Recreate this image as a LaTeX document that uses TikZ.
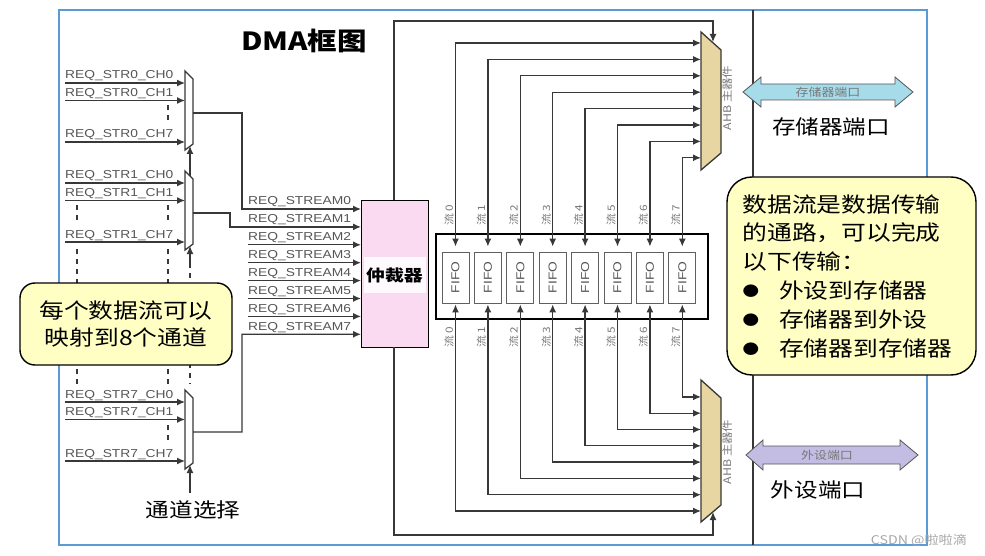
\documentclass[tikz,border=0pt]{standalone}
\usepackage{fontspec}
\setmainfont{Liberation Sans}
\newfontfamily\reqfont{Liberation Sans}[FakeStretch=1.2]
\newfontfamily\cjk{Noto Sans CJK SC}[FakeStretch=1.18]
\usepackage{tikz}
\usetikzlibrary{arrows.meta,positioning}
\definecolor{frameblue}{HTML}{5B9BD5}
\definecolor{wiregray}{HTML}{383838}
\definecolor{lblgray}{HTML}{555555}
\definecolor{arbpink}{HTML}{F9DAF0}
\definecolor{ahbtan}{HTML}{E8D6A2}
\definecolor{noteyellow}{HTML}{FFFFC4}
\definecolor{memcyan}{HTML}{A6DBEA}
\definecolor{perlilac}{HTML}{C4BDE3}
\newcommand{\notedot}{\raisebox{1.5pt}{\fontsize{14}{14}\selectfont ●}\hspace{20pt}}

\begin{document}
\begin{tikzpicture}[x=1pt, y=-1pt, >={Latex[length=8pt,width=7pt]},
	sig/.style={draw=wiregray, line width=1.3pt},
	dashsig/.style={draw=wiregray, line width=1.1pt, dash pattern=on 5pt off 5pt},
	reqlbl/.style={font=\reqfont\fontsize{11.5}{12}\selectfont, text=lblgray, inner sep=0pt, anchor=base west},
	fifobox/.style={draw=wiregray!80, line width=0.9pt, rotate=90, minimum width=51pt, minimum height=27pt, inner sep=0pt, font=\reqfont\fontsize{11.5}{12}\selectfont, text=lblgray},
	streamlbl/.style={rotate=90, font=\cjk\fontsize{10}{10}\selectfont, text=lblgray!80, inner sep=0pt},
	ahblbl/.style={rotate=90, font=\cjk\fontsize{10.5}{11}\selectfont, text=lblgray!80, inner sep=0pt},
	portlbl/.style={font=\cjk\fontsize{11}{12}\selectfont, text=lblgray!80, inner sep=0pt},
	bigcjk/.style={font=\cjk\fontsize{20}{24}\selectfont, inner sep=0pt},
	note/.style={draw=black, line width=1.4pt, fill=noteyellow, inner sep=0pt, font=\cjk\fontsize{21}{28.8}\selectfont},
	muxshape/.style={sig, fill=white},
	ahbshape/.style={sig, fill=ahbtan},
	portshape/.style={draw=lblgray, line width=0.8pt}]
	\useasboundingbox (0,0) rectangle (985,556);
	% frame and title
	\draw[frameblue, line width=1.6pt] (59,10) rectangle (927,545);
	\draw[wiregray, line width=1.5pt] (753,10) -- (753,545);
	\node[font=\cjk\bfseries\fontsize{25}{28}\selectfont] (title) at (304,41) {DMA框图};

	% channel selection muxes
	\foreach \g/\y in {0/83,1/183,7/402} {
		\draw[muxshape] (185,\y-12) -- (193,\y-4) -- (193,\y+61) -- (185,\y+67) -- cycle;
		\coordinate (mux\g-out) at (193,\y+30);
		\coordinate (mux\g-top) at (190,\y-7);
		\coordinate (mux\g-bot) at (190,\y+63);
		\foreach \c/\d in {0/0,1/17.5,7/59} {
			\coordinate (in\g\c) at (65,\y+\d);
			\coordinate (mux\g-in\c) at (185,\y+\d);
			\node[reqlbl] (lbl\g\c) at (65,\y+\d-4) {REQ\_STR\g\_CH\c};
			\draw[sig,->] (in\g\c) -- (mux\g-in\c);
		}
	}
	\foreach \x/\a/\b [count=\n] in {168/105/123,168/205/223,168/249/388,168/425/443,77/205/223,77/249/388} {
		\coordinate (dotA\n) at (\x,\a);
		\coordinate (dotB\n) at (\x,\b);
		\draw[dashsig] (dotA\n) -- (dotB\n);
	}
	\coordinate (sel-dash) at (190,263);
	\coordinate (sel-dashend) at (190,384);
	\coordinate (sel-in) at (190,493);
	\draw[sig,->] (mux1-top) -- (mux0-bot);
	\draw[sig,->] (sel-dash) -- (mux1-bot);
	\draw[dashsig] (sel-dash) -- (sel-dashend);
	\draw[sig,->] (sel-in) -- (mux7-bot);
	\node[bigcjk] (selname) at (193,510) {通道选择};

	% arbiter
	\node[draw=black, line width=1.2pt, fill=arbpink, minimum width=67pt, minimum height=147pt, anchor=north west, inner sep=0pt] (arb) at (361,200) {};
	\node[font=\cjk\bfseries\fontsize{16}{18}\selectfont, fill=white!85!arbpink, minimum width=62pt, minimum height=36pt, inner sep=0pt] (arbtxt) at (394.5,275) {仲裁器};
	\foreach \k in {0,...,7} {
		\coordinate (arb-in\k) at (361,{209+17.9*\k});
		\coordinate (sl\k) at (248,{209+17.9*\k});
		\node[reqlbl] (slbl\k) at (248,{205+17.9*\k}) {REQ\_STREAM\k};
	}
	\foreach \k in {2,...,6}
		\draw[sig,->] (sl\k) -- (arb-in\k);
	\coordinate (bend0) at (242,209);
	\coordinate (bend1) at (230,226.9);
	\coordinate (bend7) at (242,334.3);
	\draw[sig,->] (mux0-out) -| (bend0) -- (arb-in0);
	\draw[sig,->] (mux1-out) -| (bend1) -- (arb-in1);
	\draw[sig,->] (mux7-out) -| (bend7) -- (arb-in7);

	% fifos
	\node[draw=black, line width=1.5pt, minimum width=272pt, minimum height=85pt, anchor=north west, inner sep=0pt] (fifobank) at (435,233) {};
	\foreach \i in {0,...,7} {
		\node[fifobox] (fifo\i) at ({455.5+32.4*\i},277.5) {FIFO};
		\node[streamlbl] (sup\i) at ({449+32.4*\i},215) {流 \i};
		\node[streamlbl] (sdn\i) at ({449+32.4*\i},337) {流 \i};
	}

	% AHB masters
	\draw[ahbshape] (701,32) -- (721,50) -- (721,153) -- (701,170) -- cycle;
	\draw[ahbshape] (701,380) -- (721,398) -- (721,505) -- (701,522) -- cycle;
	\node[ahblbl] (ahbM-lbl) at (728,98) {AHB 主器件};
	\node[ahblbl] (ahbP-lbl) at (728,452) {AHB 主器件};
	\coordinate (ahbM-sel) at (713,42);
	\coordinate (ahbP-sel) at (713,512);
	\coordinate (arb-up) at (394,200);
	\coordinate (arb-upbend) at (394,21);
	\coordinate (arb-dn) at (394,347);
	\coordinate (arb-dnbend) at (394,535);
	\draw[sig,->] (arb-up) -- (arb-upbend) -| (ahbM-sel);
	\draw[sig,->] (arb-dn) -- (arb-dnbend) -| (ahbP-sel);
	\foreach \i in {0,...,7} {
		\coordinate (ahbM-in\i) at (701,{43+16.4*\i});
		\coordinate (ahbP-in\i) at (701,{511-16.3*\i});
		\draw[sig,<->,shorten >=5pt] (ahbM-in\i) -| (fifo\i.east);
		\draw[sig,<->,shorten >=1pt] (ahbP-in\i) -| (fifo\i.west);
	}

	% ports
	\draw[portshape, fill=memcyan] (743,92) -- (761,77) -- (761,84) -- (895,84) -- (895,77) -- (913,92) -- (895,107) -- (895,100) -- (761,100) -- (761,107) -- cycle;
	\node[portlbl] (memlbl) at (828,92) {存储器端口};
	\node[bigcjk] (memport) at (831,127) {存储器端口};
	\draw[portshape, fill=perlilac] (746,455) -- (763,440) -- (763,446) -- (900,446) -- (900,440) -- (918,455) -- (900,470) -- (900,464) -- (763,464) -- (763,470) -- cycle;
	\node[portlbl] (perlbl) at (827,455) {外设端口};
	\node[bigcjk] (perport) at (818,490) {外设端口};

	% notes
	\node[note, rounded corners=15pt, minimum width=212pt, minimum height=82pt, align=center, font=\cjk\fontsize{21}{27}\selectfont] (mapnote) at (126,324) {每个数据流可以\\映射到8个通道};
	\node[note, rounded corners=25pt, minimum width=249pt, minimum height=198pt, text width=218pt, align=left] (flownote) at (851.5,276) {数据流是数据传输\\的通路，可以完成\\以下传输：\\\notedot 外设到存储器\\\notedot 存储器到外设\\\notedot 存储器到存储器};
	\node[font=\cjk\fontsize{12}{12}\selectfont, text=gray!70] (mark) at (919,540) {CSDN @啦啦滴};
\end{tikzpicture}
\end{document}
